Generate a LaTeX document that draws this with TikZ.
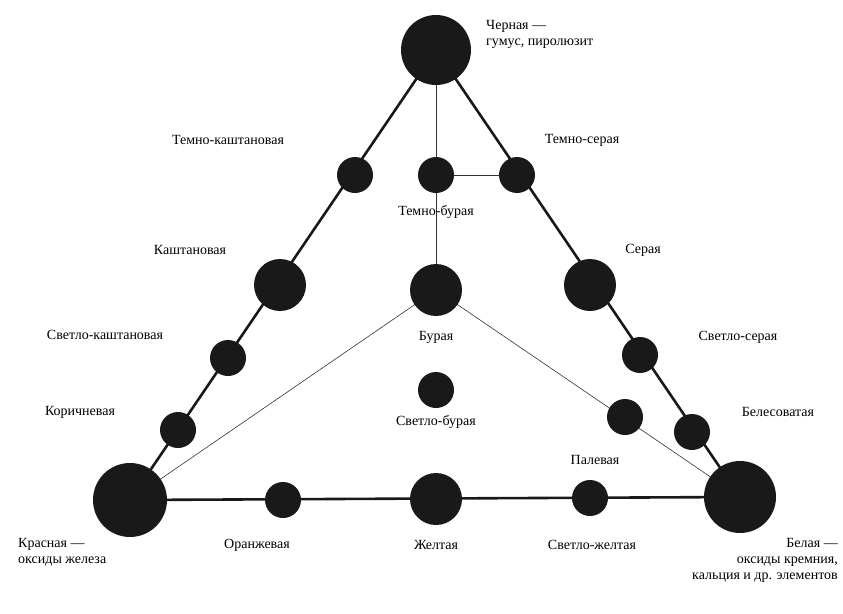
\documentclass[tikz,border=0pt]{standalone}
\usepackage{fontspec}
\setmainfont{Liberation Serif}
\begin{document}
\begin{tikzpicture}[x=1pt,y=-1pt,
  dot/.style={circle,fill=black!90,inner sep=0pt,minimum size=#1},
  thin/.style={line width=0.6pt,black!80},
  thick/.style={line width=2.6pt,black!90},
  lab/.style={font=\fontsize{14}{16}\selectfont,inner sep=0pt}]
\useasboundingbox (0,0) rectangle (843,613);
% thin lines first
\coordinate (T) at (436,50);
\coordinate (L) at (130,500);
\coordinate (R) at (740,497);
\coordinate (B) at (436,290);
\draw[thin] (T) -- (B);
\draw[thin] (B) -- (L);
\draw[thin] (B) -- (R);
\draw[thin] (436,175) -- (517,175);
\draw[thick] (T) -- (L) -- (R) -- cycle;
% nodes
\node[dot=70pt] (t) at (T) {};
\node[dot=74pt] (l) at (L) {};
\node[dot=72pt] (r) at (R) {};
\node[dot=36pt] (tk) at (355,175) {};
\node[dot=52pt] (k) at (280,285) {};
\node[dot=36pt] (sk) at (228,358) {};
\node[dot=36pt] (kor) at (178,430) {};
\node[dot=36pt] (ts) at (517,175) {};
\node[dot=52pt] (s) at (590,285) {};
\node[dot=36pt] (ss) at (640,355) {};
\node[dot=36pt] (bel) at (692,432) {};
\node[dot=36pt] (tb) at (436,175) {};
\node[dot=52pt] (b) at (B) {};
\node[dot=36pt] (sb) at (436,390) {};
\node[dot=36pt] (pal) at (625,417) {};
\node[dot=36pt] (or) at (283,500) {};
\node[dot=52pt] (zh) at (436,499) {};
\node[dot=36pt] (szh) at (590,498) {};
% labels
\node[lab,anchor=west,align=left] (lt) at (486,34) {Черная —\\гумус, пиролюзит};
\node[lab] (ltk) at (228,140) {Темно-каштановая};
\node[lab] (lts) at (582,140) {Темно-серая};
\node[lab] (ltb) at (436,212) {Темно-бурая};
\node[lab] (lk) at (190,250) {Каштановая};
\node[lab] (ls) at (643,250) {Серая};
\node[lab] (lsk) at (105,335) {Светло-каштановая};
\node[lab] (lb) at (436,337) {Бурая};
\node[lab] (lss) at (738,337) {Светло-серая};
\node[lab] (lkor) at (80,412) {Коричневая};
\node[lab] (lsb) at (436,422) {Светло-бурая};
\node[lab] (lbel) at (778,412) {Белесоватая};
\node[lab] (lpal) at (595,460) {Палевая};
\node[lab] (lor) at (257,545) {Оранжевая};
\node[lab] (lzh) at (436,545) {Желтая};
\node[lab] (lszh) at (592,545) {Светло-желтая};
\node[lab,anchor=north west,align=left] (ll) at (18,538) {Красная —\\оксиды железа};
\node[lab,anchor=north east,align=right] (lr) at (838,538) {Белая —\\оксиды кремния,\\кальция и др. элементов};
\end{tikzpicture}
\end{document}
